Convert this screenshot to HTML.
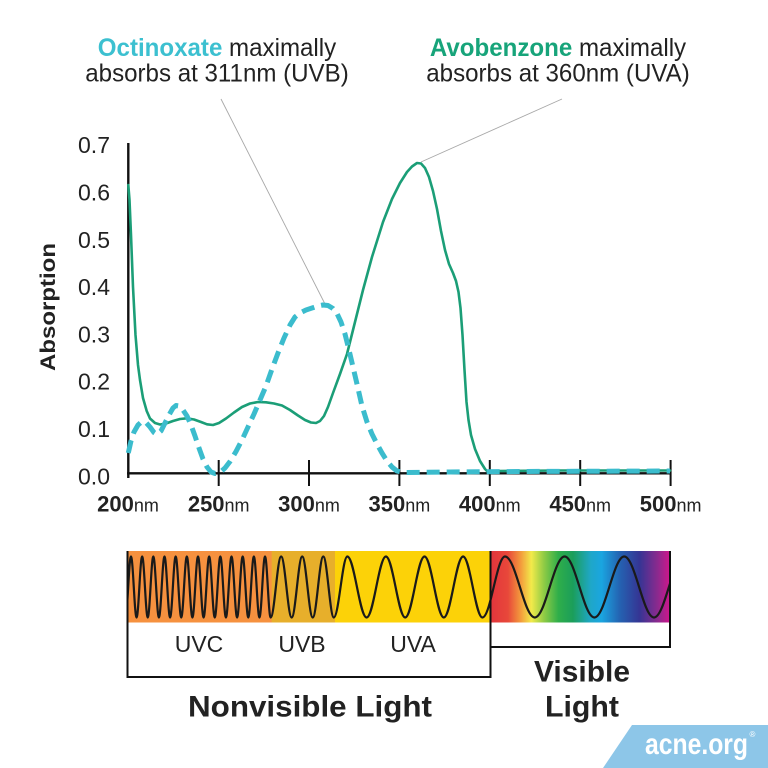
<!DOCTYPE html>
<html>
<head>
<meta charset="utf-8">
<style>
html,body{margin:0;padding:0;background:#fff;}
svg{display:block;}
text{font-family:"Liberation Sans",Arial,sans-serif;}
</style>
</head>
<body>
<svg width="768" height="768" viewBox="0 0 768 768" xmlns="http://www.w3.org/2000/svg">
<defs>
<linearGradient id="vis" x1="490" y1="0" x2="670" y2="0" gradientUnits="userSpaceOnUse">
<stop offset="0" stop-color="#e2343c"/>
<stop offset="0.10" stop-color="#e8483a"/>
<stop offset="0.17" stop-color="#f39a3c"/>
<stop offset="0.23" stop-color="#f2ea4a"/>
<stop offset="0.30" stop-color="#8fcb45"/>
<stop offset="0.38" stop-color="#2fae4a"/>
<stop offset="0.46" stop-color="#1b9e5a"/>
<stop offset="0.56" stop-color="#1fa7c8"/>
<stop offset="0.62" stop-color="#1aa5e0"/>
<stop offset="0.72" stop-color="#2463b2"/>
<stop offset="0.83" stop-color="#353594"/>
<stop offset="0.93" stop-color="#8a2a8e"/>
<stop offset="1" stop-color="#d0168c"/>
</linearGradient>
<clipPath id="barclip"><rect x="127" y="551" width="543.5" height="71.5"/></clipPath>
</defs>

<!-- Titles -->
<g transform="translate(217,0) scale(0.965,1)">
<text x="0" y="56" text-anchor="middle" font-size="25" fill="#222"><tspan font-weight="bold" fill="#3cc0d0">Octinoxate</tspan> maximally</text>
<text x="0" y="81.5" text-anchor="middle" font-size="25" fill="#222">absorbs at 311nm (UVB)</text>
</g>
<g transform="translate(558,0) scale(0.965,1)">
<text x="0" y="56" text-anchor="middle" font-size="25" fill="#222"><tspan font-weight="bold" fill="#17a47a">Avobenzone</tspan> maximally</text>
<text x="0" y="81.5" text-anchor="middle" font-size="25" fill="#222">absorbs at 360nm (UVA)</text>
</g>

<!-- leader lines -->
<line x1="221" y1="99" x2="325" y2="304" stroke="#a8a8a8" stroke-width="0.9"/>
<line x1="562" y1="99" x2="421" y2="162" stroke="#a8a8a8" stroke-width="0.9"/>

<!-- Y label -->
<text transform="translate(55,307) rotate(-90)" text-anchor="middle" font-size="21" font-weight="bold" fill="#222" textLength="128" lengthAdjust="spacingAndGlyphs">Absorption</text>

<!-- Y tick labels -->
<g font-size="23" fill="#222" text-anchor="end">
<text x="110" y="153.2">0.7</text>
<text x="110" y="200.5">0.6</text>
<text x="110" y="247.8">0.5</text>
<text x="110" y="295.1">0.4</text>
<text x="110" y="342.4">0.3</text>
<text x="110" y="389.7">0.2</text>
<text x="110" y="437">0.1</text>
<text x="110" y="484.3">0.0</text>
</g>

<!-- X tick labels -->
<g fill="#222" text-anchor="middle">
<text x="128" y="511.7"><tspan font-size="22" font-weight="bold">200</tspan><tspan font-size="18">nm</tspan></text>
<text x="218.7" y="511.7"><tspan font-size="22" font-weight="bold">250</tspan><tspan font-size="18">nm</tspan></text>
<text x="309" y="511.7"><tspan font-size="22" font-weight="bold">300</tspan><tspan font-size="18">nm</tspan></text>
<text x="399.4" y="511.7"><tspan font-size="22" font-weight="bold">350</tspan><tspan font-size="18">nm</tspan></text>
<text x="489.8" y="511.7"><tspan font-size="22" font-weight="bold">400</tspan><tspan font-size="18">nm</tspan></text>
<text x="580.2" y="511.7"><tspan font-size="22" font-weight="bold">450</tspan><tspan font-size="18">nm</tspan></text>
<text x="670.6" y="511.7"><tspan font-size="22" font-weight="bold">500</tspan><tspan font-size="18">nm</tspan></text>
</g>

<!-- Axes -->
<g stroke="#111" stroke-width="2.4" fill="none">
<line x1="128.3" y1="143" x2="128.3" y2="478"/>
<line x1="127" y1="473.3" x2="671.5" y2="473.3"/>
</g>
<g stroke="#111" stroke-width="2" fill="none">
<line x1="218.7" y1="460" x2="218.7" y2="486"/>
<line x1="309" y1="460" x2="309" y2="486"/>
<line x1="399.4" y1="460" x2="399.4" y2="486"/>
<line x1="489.8" y1="460" x2="489.8" y2="486"/>
<line x1="580.2" y1="460" x2="580.2" y2="486"/>
<line x1="670.6" y1="460" x2="670.6" y2="486"/>
</g>

<!-- Avobenzone (solid green) -->
<path fill="none" stroke="#1b9e77" stroke-width="2.6" stroke-linejoin="round" stroke-linecap="round"
d="M128.3,185 L129.5,200 L131,235 L133,287 L135.5,335 L138,365 L140,380 L143,398 L146.7,411 L150,418.5 L155,423 L160,424.5 L166,423.5 L173,421 L180,419 L187,418.3 L194,419.5 L201,422 L207,424.3 L213,425 L219,423 L226,418.5 L234,412.5 L242,407 L250,403.5 L258,402 L266,402.3 L274,403.5 L282,405.5 L290,410 L298,415.5 L305,420 L311,422.5 L316,423 L320,421 L324,416 L328,407 L333,393 L340,374 L347,354 L355,322 L363,290 L372,257 L383,222 L392,199 L400,183 L407,172 L412,166.5 L417,163 L421,163.5 L425,168 L429,177 L433,191 L437,209 L441,231 L445,250 L449,264 L453,273 L456,281 L458.5,292 L460.5,308 L462.5,335 L464.5,370 L466.5,402 L468.5,420 L471,435 L475,449 L480,461 L485,469 L488,472 L495,471 L560,470.5 L670,470.5"/>

<!-- Octinoxate (dashed cyan) -->
<path fill="none" stroke="#3bbccd" stroke-width="5" stroke-dasharray="13 7" stroke-linejoin="round"
d="M128.3,453 L131,441 L134,432 L138,425 L142,421.5 L146,422.5 L150,427 L154,432.5 L157,434.5 L161,431 L165,423 L169,415 L173,408 L176,405.5 L179,406 L183,410 L187,416 L191,425 L195,436 L199,448 L203,459 L207,467 L211,472 L215,473.5 L220,472.5 L225,468 L230,461.5 L236,451.5 L242,440 L248,427 L254,414 L260,400 L266,386 L272,369 L278,353 L284,338 L290,325 L295,317 L300,313 L306,310 L312,308 L318,306 L323,305 L328,305.5 L333,308.5 L337,313.5 L341,322 L345,334 L349,350 L353,367 L357,384 L362,406 L367,422 L372,434 L377,444 L382,453 L387,461 L392,467 L397,471 L403,472.5 L450,472 L520,471.5 L670,471"/>

<!-- Spectrum bar -->
<rect x="127" y="551" width="145" height="71.5" fill="#f6913f"/>
<rect x="271.7" y="551" width="63.5" height="71.5" fill="#e7af2b"/>
<rect x="335" y="551" width="155.5" height="71.5" fill="#fcd208"/>
<rect x="490" y="551" width="180.5" height="71.5" fill="url(#vis)"/>

<path clip-path="url(#barclip)" fill="none" stroke="#1a1a1a" stroke-width="2.2"
d="M125.4,617.5 c2.03,0 3.555,-61 5.585,-61
s3.555,61 5.585,61 s3.555,-61 5.585,-61 s3.555,61 5.585,61 s3.555,-61 5.585,-61
s3.555,61 5.585,61 s3.555,-61 5.585,-61 s3.555,61 5.585,61 s3.555,-61 5.585,-61
s3.555,61 5.585,61 s3.555,-61 5.585,-61 s3.555,61 5.585,61 s3.555,-61 5.585,-61
s3.555,61 5.585,61 s3.555,-61 5.585,-61 s3.555,61 5.585,61 s3.555,-61 5.585,-61
s3.555,61 5.585,61 s3.555,-61 5.585,-61 s3.555,61 5.585,61 s3.555,-61 5.585,-61
s3.555,61 5.585,61 s3.555,-61 5.585,-61 s3.555,61 5.585,61 s3.555,-61 5.585,-61
s3.555,61 5.585,61
c3.828,0 6.705,-61 10.533,-61 s6.705,61 10.533,61 s6.705,-61 10.533,-61 s6.705,61 10.533,61 s6.705,-61 10.533,-61 s6.705,61 10.533,61
c4.906,0 8.594,-61 13.5,-61
c7.014,0 12.286,61 19.3,61 s12.286,-61 19.3,-61 s12.286,61 19.3,61 s12.286,-61 19.3,-61 s12.286,61 19.3,61 s12.286,-61 19.3,-61 s12.286,61 19.3,61
c8.213,0 14.387,-61 22.6,-61
c10.829,0 18.971,61 29.8,61 s18.971,-61 29.8,-61 s18.971,61 29.8,61 s18.971,-61 29.8,-61 s18.971,61 29.8,61 s18.971,-61 29.8,-61"/>

<!-- Boxes -->
<g stroke="#111" stroke-width="2" fill="none">
<polyline points="127.5,551 127.5,677 490.5,677 490.5,551"/>
<polyline points="490.5,647 670,647 670,551"/>
</g>

<!-- Bar labels -->
<g font-size="23" fill="#222" text-anchor="middle">
<text x="199" y="652">UVC</text>
<text x="302" y="652">UVB</text>
<text x="413" y="652">UVA</text>
</g>
<g font-size="30" font-weight="bold" fill="#222" text-anchor="middle">
<text x="310" y="716.7" textLength="244" lengthAdjust="spacingAndGlyphs">Nonvisible Light</text>
<text x="582" y="681.7" textLength="96" lengthAdjust="spacingAndGlyphs">Visible</text>
<text x="582" y="716.7" textLength="74" lengthAdjust="spacingAndGlyphs">Light</text>
</g>

<!-- Logo -->
<polygon points="632,725 768,725 768,768 603,768" fill="#8dc6e8"/>
<text x="645" y="754" font-size="30" font-weight="bold" fill="#fff" textLength="103" lengthAdjust="spacingAndGlyphs">acne.org</text>
<text x="749.5" y="737" font-size="8" fill="#fff">®</text>
</svg>
</body>
</html>
